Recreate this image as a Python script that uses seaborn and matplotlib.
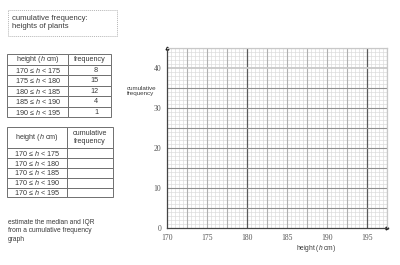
import numpy as np
import pandas as pd
import matplotlib
matplotlib.use("Agg")
import matplotlib.pyplot as plt
import seaborn as sns
from matplotlib.ticker import MultipleLocator
from matplotlib.patches import Rectangle

# ---------------- data ----------------
class_labels = ["170 ≤ $h$ < 175", "175 ≤ $h$ < 180", "180 ≤ $h$ < 185",
                "185 ≤ $h$ < 190", "190 ≤ $h$ < 195"]
frequency = [8, 15, 12, 4, 1]
cum_labels = ["170 ≤ $h$ < 175", "170 ≤ $h$ < 180", "170 ≤ $h$ < 185",
              "170 ≤ $h$ < 190", "170 ≤ $h$ < 195"]
x_ticks = [170, 175, 180, 185, 190, 195]
y_ticks = [0, 10, 20, 30, 40]
x_range = (170, 197.5)
y_range = (0, 45)

sns.set_style("white")
plt.rcParams["font.family"] = ["Liberation Sans", "DejaVu Sans"]
plt.rcParams["mathtext.fontset"] = "custom"
plt.rcParams["mathtext.rm"] = "Liberation Sans"
plt.rcParams["mathtext.it"] = "Liberation Sans:italic"

TXT = "#3a3a3a"
fig = plt.figure(figsize=(4.0, 2.65), dpi=100)

# ---------------- graph paper ----------------
ax = fig.add_axes([167.3 / 400, 1 - 228 / 265, 220 / 400, 180 / 265])
ax.set_xlim(*x_range)
ax.set_ylim(*y_range)
ax.set_facecolor("white")
ax.xaxis.set_minor_locator(MultipleLocator(0.5))
ax.yaxis.set_minor_locator(MultipleLocator(1))
ax.grid(which="minor", color="#dadada", lw=0.45)
for xv in np.arange(x_range[0] + 2.5, x_range[1] + 0.01, 2.5):
    dark = xv in (180, 195)
    ax.axvline(xv, color="#5a5a5a" if dark else "#b0b0b0", lw=0.9 if dark else 0.8, zorder=1)
for yv in np.arange(5, y_range[1] + 0.01, 5):
    c = "#c8c8c8" if yv in (40, 45) else "#8f8f8f"
    ax.axhline(yv, color=c, lw=0.8 if yv != 40 else 1.3, zorder=1)
ax.set_xticks(x_ticks)
ax.set_yticks(y_ticks)
ax.set_xticklabels([str(v) for v in x_ticks], family="Liberation Serif", fontsize=5.5, color="#555555")
ax.set_yticklabels([str(v) for v in y_ticks], family="Liberation Serif", fontsize=5.5, color="#555555")
ax.tick_params(axis="x", which="major", direction="inout", length=4, width=0.8, color="#222222", pad=2)
ax.tick_params(axis="y", which="major", direction="out", length=3, width=0.6, color="#555555", pad=1.5)
ax.tick_params(which="minor", length=0)
for s in ["top", "right"]:
    ax.spines[s].set_color("#c8c8c8")
    ax.spines[s].set_linewidth(0.9)
for s in ["left", "bottom"]:
    ax.spines[s].set_color("#444444")
    ax.spines[s].set_linewidth(0.9)
ax.plot(1, 0, ">", color="#111111", ms=2.0, transform=ax.transAxes, clip_on=False)
ax.plot(0, 1, "^", color="#111111", ms=2.0, transform=ax.transAxes, clip_on=False)

# ---------------- overlay for text/tables ----------------
lay = fig.add_axes([0, 0, 1, 1], zorder=5)
lay.set_xlim(0, 400)
lay.set_ylim(265, 0)
lay.axis("off")
lay.patch.set_alpha(0)

lay.add_patch(Rectangle((7.5, 10), 109.5, 25.5, fill=False, ls=(0, (1, 1)), ec="#b5b5b5", lw=0.7))
lay.text(12, 22.5, "cumulative frequency:\nheights of plants", fontsize=5.6, color=TXT,
         va="center", ha="left", linespacing=1.25)

lay.text(127, 90.8, "cumulative\nfrequency", fontsize=4.5, color=TXT, va="center", ha="left",
         linespacing=1.05)
lay.text(316, 248, "height ($h$ cm)", fontsize=4.8, color=TXT, va="center", ha="center")

lay.text(8, 231, "estimate the median and IQR\nfrom a cumulative frequency\ngraph",
         fontsize=4.8, color=TXT, va="center", ha="left", linespacing=1.3)

# table 1
t1_rows = [["height ($h$ cm)", "frequency"]] + [[c, str(f)] for c, f in zip(class_labels, frequency)]
t1 = lay.table(cellText=t1_rows, bbox=[7.3 / 400, 1 - 117.3 / 265, 103.7 / 400, 63 / 265],
               colWidths=[0.588, 0.412], cellLoc="center")
t1.auto_set_font_size(False)
for (r, c), cell in t1.get_celld().items():
    cell.set_edgecolor("#6f6f6f")
    cell.set_linewidth(0.7)
    cell.get_text().set_fontsize(5.2)
    cell.get_text().set_color(TXT)
    if r > 0 and c == 1:
        cell.get_text().set_ha("right")
        cell.PAD = 0.3

# table 2
t2_rows = [["height ($h$ cm)", "cumulative\nfrequency"]] + [[c, ""] for c in cum_labels]
t2 = lay.table(cellText=t2_rows, bbox=[7.3 / 400, 1 - 197.3 / 265, 106 / 400, 70.6 / 265],
               colWidths=[0.56, 0.44], cellLoc="center")
t2.auto_set_font_size(False)
for (r, c), cell in t2.get_celld().items():
    cell.set_edgecolor("#6f6f6f")
    cell.set_linewidth(0.7)
    cell.set_height(21.6 if r == 0 else 9.8)
    cell.get_text().set_fontsize(5.2)
    cell.get_text().set_color(TXT)
    cell.get_text().set_linespacing(1.3)

fig.savefig("out.png", dpi=100)
